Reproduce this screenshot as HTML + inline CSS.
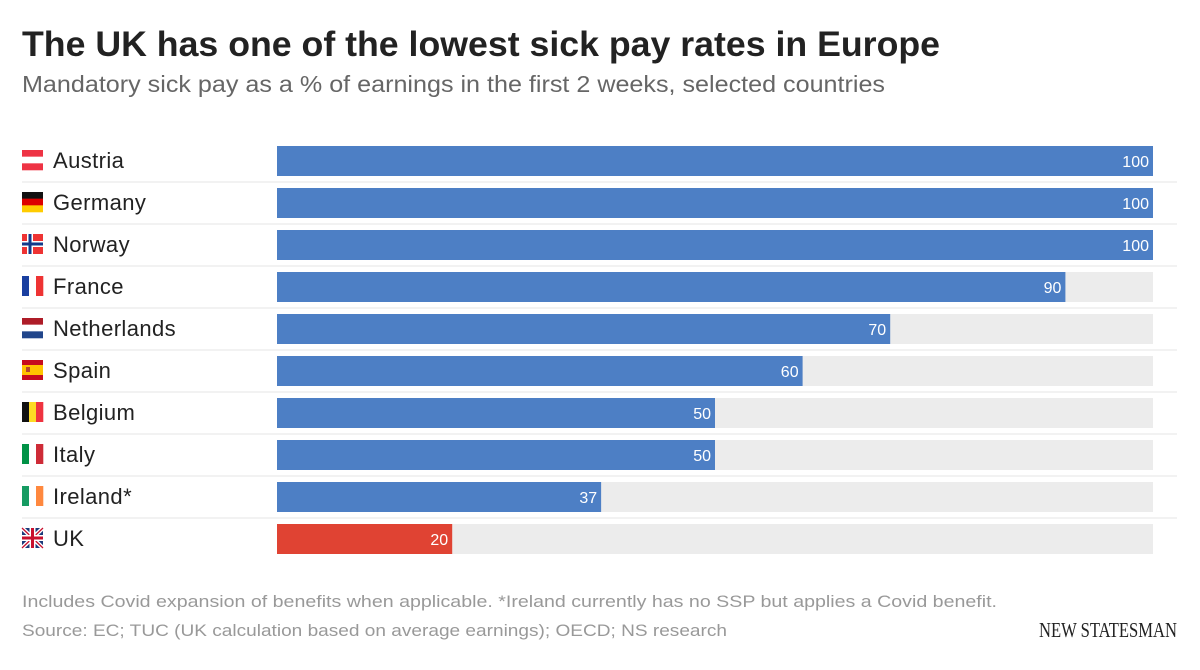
<!DOCTYPE html>
<html><head><meta charset="utf-8"><style>
body{margin:0;background:#fff;width:1200px;height:665px;overflow:hidden;font-family:"Liberation Sans",sans-serif}
</style></head><body>
<svg id="c" width="1200" height="665">
<text x="22" y="56" font-size="35" font-weight="bold" fill="#222" textLength="918" lengthAdjust="spacingAndGlyphs">The UK has one of the lowest sick pay rates in Europe</text>
<text x="22" y="92" font-size="23" fill="#666" textLength="863" lengthAdjust="spacingAndGlyphs">Mandatory sick pay as a % of earnings in the first 2 weeks, selected countries</text>
<text x="22" y="607" font-size="17" fill="#999" textLength="975" lengthAdjust="spacingAndGlyphs">Includes Covid expansion of benefits when applicable. *Ireland currently has no SSP but applies a Covid benefit.</text>
<text x="22" y="636" font-size="17" fill="#999" textLength="705" lengthAdjust="spacingAndGlyphs">Source: EC; TUC (UK calculation based on average earnings); OECD; NS research</text>
<text x="1177" y="637" font-size="21" text-anchor="end" font-family="Liberation Serif,serif" fill="#222" textLength="138" lengthAdjust="spacingAndGlyphs">NEW STATESMAN</text>
<g id="rows"></g>
</svg>
<script>
const countries=["Austria","Germany","Norway","France","Netherlands","Spain","Belgium","Italy","Ireland*","UK"];
const values=[100,100,100,90,70,60,50,50,37,20];
const flags=[["h","#ee3344","#fff","#ee3344"],["h","#111","#dd0000","#ffcc00"],["no"],["v","#1a3fa0","#fff","#e33"],["h","#ae1c28","#fff","#21468b"],["es"],["v","#111","#fdda24","#ef3340"],["v","#009246","#fff","#ce2b37"],["v","#169b62","#fff","#ff883e"],["uk"]];
const NS="http://www.w3.org/2000/svg";
const g=document.getElementById("rows");
const x0=277,x1=1153,y0=146,pitch=42,bh=30;
const xs=v=>x0+(x1-x0)*v/100;
function el(t,a,p){const e=document.createElementNS(NS,t);for(const k in a)e.setAttribute(k,a[k]);(p||g).appendChild(e);return e;}
countries.forEach((c,i)=>{
  const y=y0+i*pitch;
  if(i>0){const s=el("line",{x1:22,x2:1177,y1:y-6,y2:y-6,stroke:"#e6e6e6","stroke-width":1});
  
  }
  const bg=el("rect",{x:x0,y:y,width:x1-x0,height:bh,fill:"#ececec"});
  
  
  const b=el("rect",{x:x0,y:y,width:xs(values[i])-x0,height:bh,fill:c==="UK"?"#e04333":"#4d7fc5"});
  
  
  const vt=el("text",{x:xs(values[i])-4,y:y+21,"font-size":16,fill:"#fff","text-anchor":"end"});
  vt.textContent=values[i];
  
  
  const lt=el("text",{x:53,y:y+22,"font-size":22,fill:"#222","letter-spacing":"0.4"});
  lt.textContent=c;
  
  
  const fg=el("g",{transform:`translate(22,${y+4})`});
  
  
  const f=flags[i],W=21,H=20;
  if(f[0]==="h"){for(let k=0;k<3;k++)el("rect",{x:0,y:k*H/3,width:W,height:H/3+0.3,fill:f[k+1]},fg);}
  else if(f[0]==="v"){for(let k=0;k<3;k++)el("rect",{x:k*W/3,y:0,width:W/3+0.3,height:H,fill:f[k+1]},fg);}
  else if(f[0]==="no"){el("rect",{x:0,y:0,width:W,height:H,fill:"#e33"},fg);el("rect",{x:5,y:0,width:6,height:H,fill:"#fff"},fg);el("rect",{x:0,y:7,width:W,height:6,fill:"#fff"},fg);el("rect",{x:6.5,y:0,width:3,height:H,fill:"#123a8a"},fg);el("rect",{x:0,y:8.5,width:W,height:3,fill:"#123a8a"},fg);}
  else if(f[0]==="es"){el("rect",{x:0,y:0,width:W,height:H,fill:"#c60b1e"},fg);el("rect",{x:0,y:5,width:W,height:10,fill:"#ffc400"},fg);el("rect",{x:4,y:7,width:4,height:5,fill:"#b5472e"},fg);}
  else {el("rect",{x:0,y:0,width:W,height:H,fill:"#1b3a7a"},fg);el("path",{d:`M0 0L${W} ${H}M${W} 0L0 ${H}`,stroke:"#fff","stroke-width":4},fg);el("path",{d:`M0 0L${W} ${H}M${W} 0L0 ${H}`,stroke:"#c8102e","stroke-width":1.3},fg);el("rect",{x:7.5,y:0,width:6,height:H,fill:"#fff"},fg);el("rect",{x:0,y:7,width:W,height:6,fill:"#fff"},fg);el("rect",{x:9,y:0,width:3,height:H,fill:"#c8102e"},fg);el("rect",{x:0,y:8.5,width:W,height:3,fill:"#c8102e"},fg);}
});
</script>
</body></html>
